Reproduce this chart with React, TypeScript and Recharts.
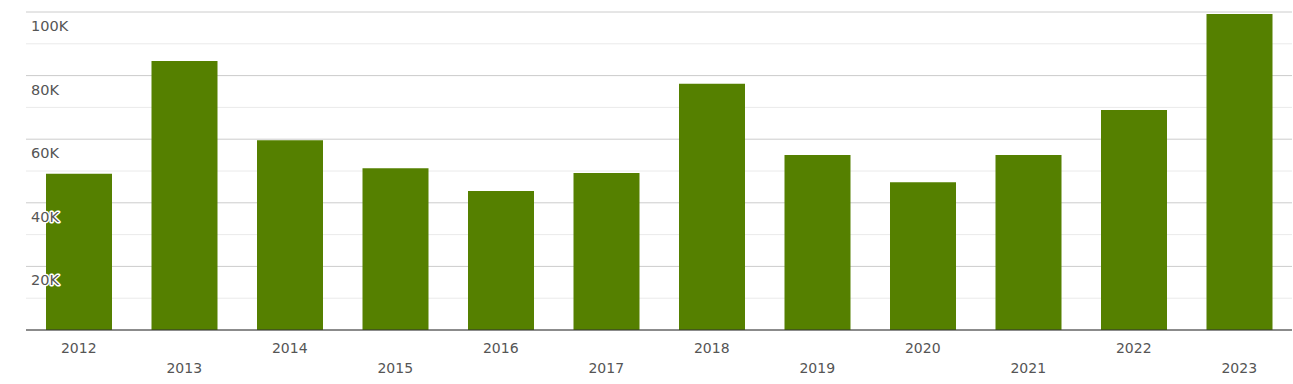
import React from "react";
import { BarChart, Bar, XAxis, YAxis, CartesianGrid } from "recharts";

const years = ["2012", "2013", "2014", "2015", "2016", "2017", "2018", "2019", "2020", "2021", "2022", "2023"];
const values = [49100, 84600, 59700, 50900, 43700, 49400, 77400, 55000, 46500, 55000, 69200, 99400];
const yTicks = [0, 20000, 40000, 60000, 80000, 100000];
const minorTicks = [10000, 30000, 50000, 70000, 90000];
const yTickLabels = ["", "20K", "40K", "60K", "80K", "100K"];

const data = years.map((y, i) => ({ year: y, value: values[i] }));

const FONT = "'DejaVu Sans', sans-serif";

const XTick = (props: any) => {
  const { x, y, payload, index } = props;
  const dy = index % 2 === 0 ? 23 : 43;
  return (
    <text x={x} y={y - 8 + dy} textAnchor="middle" fontFamily={FONT} fontSize={14} fill="#555">
      {payload.value}
    </text>
  );
};

const YTick = (props: any) => {
  const { y, payload } = props;
  const idx = yTicks.indexOf(payload.value);
  const label = yTickLabels[idx] ?? "";
  if (!label) return <g />;
  return (
    <text
      x={31}
      y={y + 19}
      textAnchor="start"
      fontFamily={FONT}
      fontSize={14.5}
      fill="#555"
      stroke="#fff"
      strokeWidth={3}
      strokeLinejoin="round"
      style={{ paintOrder: "stroke" }}
    >
      {label}
    </text>
  );
};

export default function App() {
  return (
    <div style={{ position: "absolute", left: 0, top: 0 }}>
      <BarChart
        width={1293}
        height={384}
        data={data}
        margin={{ top: 12, right: 1, bottom: 0, left: 0 }}
        barCategoryGap={20}
      >
        <CartesianGrid
          horizontal
          vertical={false}
          horizontalValues={minorTicks}
          stroke="#eaeaea"
        />
        <CartesianGrid
          horizontal
          vertical={false}
          horizontalValues={yTicks}
          stroke="#cccccc"
        />
        <XAxis
          dataKey="year"
          tickLine={false}
          axisLine={{ stroke: "#333", strokeWidth: 1 }}
          tick={<XTick />}
          interval={0}
          height={54}
        />
        <Bar dataKey="value" fill="#558000" isAnimationActive={false} />
        <YAxis
          width={26}
          domain={[0, 100000]}
          ticks={yTicks}
          axisLine={false}
          tickLine={false}
          tick={<YTick />}
          orientation="left"
          interval={0}
        />
      </BarChart>
    </div>
  );
}
